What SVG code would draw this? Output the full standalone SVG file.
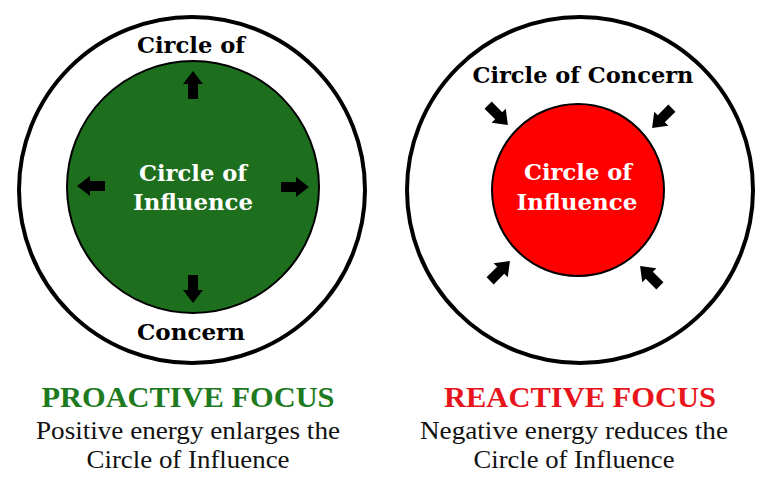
<svg xmlns="http://www.w3.org/2000/svg" width="768" height="490" viewBox="0 0 768 490">
<defs>
<style>
.outer{fill:#fff;stroke:#000;stroke-width:4}
.inner{stroke:#000;stroke-width:2}
.lbl{font-family:"DejaVu Serif","Liberation Serif",serif;font-weight:bold;font-size:22.5px;text-anchor:middle}
.title{font-family:"Liberation Serif",serif;font-weight:bold;font-size:30px;text-anchor:middle}
.sub{font-family:"Liberation Serif",serif;font-size:25px;text-anchor:middle;fill:#111}
.arr{fill:#000}
</style>
<path id="ar" d="M-14,-5 H1 V-10 L14,0 L1,10 V5 H-14 Z"/>
</defs>
<rect width="768" height="490" fill="#fff"/>
<g id="proactive-concern">
<circle class="outer" cx="192" cy="190" r="173"/>
<text class="lbl" x="191" y="53" textLength="108" lengthAdjust="spacingAndGlyphs">Circle of</text>
<text class="lbl" x="191" y="340" textLength="108" lengthAdjust="spacingAndGlyphs">Concern</text>
</g>
<g id="proactive-influence">
<circle class="inner" cx="193" cy="187" r="126" fill="#1d6e1d"/>
<text class="lbl" x="193" y="181" fill="#fff" textLength="108" lengthAdjust="spacingAndGlyphs">Circle of</text>
<text class="lbl" x="193" y="210" fill="#fff" textLength="120" lengthAdjust="spacingAndGlyphs">Influence</text>
</g>
<g id="reactive-concern">
<circle class="outer" cx="580" cy="190" r="173"/>
<text class="lbl" x="583" y="83" textLength="221" lengthAdjust="spacingAndGlyphs">Circle of Concern</text>
</g>
<g id="reactive-influence">
<circle class="inner" cx="578" cy="190" r="86" fill="#ff0000"/>
<text class="lbl" x="578" y="180" fill="#fff" textLength="108" lengthAdjust="spacingAndGlyphs">Circle of</text>
<text class="lbl" x="577" y="210" fill="#fff" textLength="121" lengthAdjust="spacingAndGlyphs">Influence</text>
</g>
<g id="connectors" class="arr">
<use href="#ar" transform="translate(193,85) rotate(-90)"/>
<use href="#ar" transform="translate(91,186) rotate(180)"/>
<use href="#ar" transform="translate(295,187)"/>
<use href="#ar" transform="translate(193,289) rotate(90)"/>
<use href="#ar" transform="translate(498,115) rotate(45)"/>
<use href="#ar" transform="translate(662,118) rotate(135)"/>
<use href="#ar" transform="translate(500,271) rotate(-45)"/>
<use href="#ar" transform="translate(650,276) rotate(-135)"/>
</g>
<g id="captions">
<text class="title" x="188" y="407" fill="#1e7a1e" textLength="293" lengthAdjust="spacingAndGlyphs">PROACTIVE FOCUS</text>
<text class="sub" x="188" y="439" textLength="304" lengthAdjust="spacingAndGlyphs">Positive energy enlarges the</text>
<text class="sub" x="188" y="468" textLength="203" lengthAdjust="spacingAndGlyphs">Circle of Influence</text>
<text class="title" x="580" y="407" fill="#e8141c" textLength="272" lengthAdjust="spacingAndGlyphs">REACTIVE FOCUS</text>
<text class="sub" x="574" y="439" textLength="308" lengthAdjust="spacingAndGlyphs">Negative energy reduces the</text>
<text class="sub" x="574" y="468" textLength="201" lengthAdjust="spacingAndGlyphs">Circle of Influence</text>
</g>
</svg>
